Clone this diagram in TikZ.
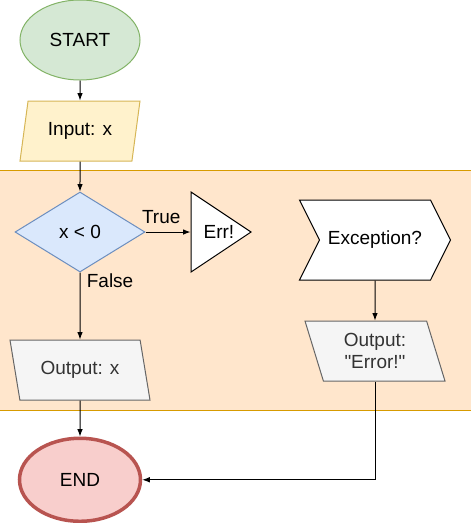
\documentclass[tikz,border=0pt]{standalone}
\usepackage{fontspec}
\setmainfont{Liberation Sans}[Ligatures=TeXOff]
\usepackage{tikz}
\usetikzlibrary{arrows.meta,positioning}
\usetikzlibrary{shapes.geometric,shapes.symbols}
\tikzset{>=Latex}
\pgfdeclarelayer{back}
\pgfsetlayers{back,main}
\definecolor{start-fill}{HTML}{D5E8D4}
\definecolor{start-line}{HTML}{82B366}
\definecolor{in-fill}{HTML}{FFF2CC}
\definecolor{in-line}{HTML}{D6B656}
\definecolor{cond-fill}{HTML}{DAE8FC}
\definecolor{cond-line}{HTML}{6C8EBF}
\definecolor{out-fill}{HTML}{F5F5F5}
\definecolor{out-line}{HTML}{666666}
\definecolor{out-text}{HTML}{333333}
\definecolor{end-fill}{HTML}{F8CECC}
\definecolor{end-line}{HTML}{B85450}
\definecolor{try-fill}{HTML}{FFE6CC}
\definecolor{try-line}{HTML}{D79B00}

\begin{document}
\begin{tikzpicture}[x=1pt, y=1pt, node distance=30pt, auto,
                >=Latex,
                every node/.append style={align=center, font=\fontsize{19}{22}\selectfont},
                box/.style={draw, line width=1pt, inner sep=2pt},
                term/.style={box, ellipse, minimum width=120pt, minimum height=80pt},
                io/.style={box, trapezium, trapezium stretches body, minimum height=60pt},
                flow/.style={->, line width=1pt}]
               \useasboundingbox (0,0) rectangle (471,-523);

               \node [term, fill=start-fill, draw=start-line] (S) at (80,-40) {START};
               \node [io, below=20pt of S, minimum width=120pt, trapezium left angle=69, trapezium right angle=111,
                      fill=in-fill, draw=in-line] (I) {Input: x};
               \node [box, diamond, below=30pt of I, minimum width=130pt, minimum height=80pt,
                      fill=cond-fill, draw=cond-line] (D) {x < 0};
               \node [box, isosceles triangle, isosceles triangle stretches, right=45pt of D,
                      minimum width=80pt, minimum height=60pt, fill=white,
                      label={[xshift=7pt]center:Err!}] (E) {};
               \node [box, signal, signal to=east, signal from=west, signal pointer angle=127,
                      minimum width=151pt, minimum height=80pt, fill=white] (X) at (375,-240) {Exception?};
               \node [io, below=40pt of X, minimum width=140pt, trapezium left angle=115, trapezium right angle=65,
                      fill=out-fill, draw=out-line, text=out-text] (OE) {Output:\\"Error!"};
               \node [io, below=67pt of D, minimum width=140pt, trapezium left angle=115, trapezium right angle=65,
                      fill=out-fill, draw=out-line, text=out-text] (O) {Output: x};
               \node [term, below=36pt of O, line width=3.5pt, minimum width=121pt, minimum height=83pt,
                      fill=end-fill, draw=end-line] (T) {END};

               % try block behind the nodes
               \begin{pgfonlayer}{back}
                   \fill [try-fill] (-2,-170) rectangle (473,-410);
                   \draw [try-line, line width=1pt] (-2,-170) -- (473,-170) (-2,-410) -- (473,-410);
               \end{pgfonlayer}

               \path[flow] (S) edge (I)
                           (I) edge (D)
                           (D) edge node [pos=.35, yshift=4pt] {True} (E)
                           (D) edge node [pos=.12, right, xshift=3pt] {False} (O)
                           (O) edge (T)
                           (X) edge (OE);
               \draw[flow] (OE) |- (T);
        \end{tikzpicture}
\end{document}
